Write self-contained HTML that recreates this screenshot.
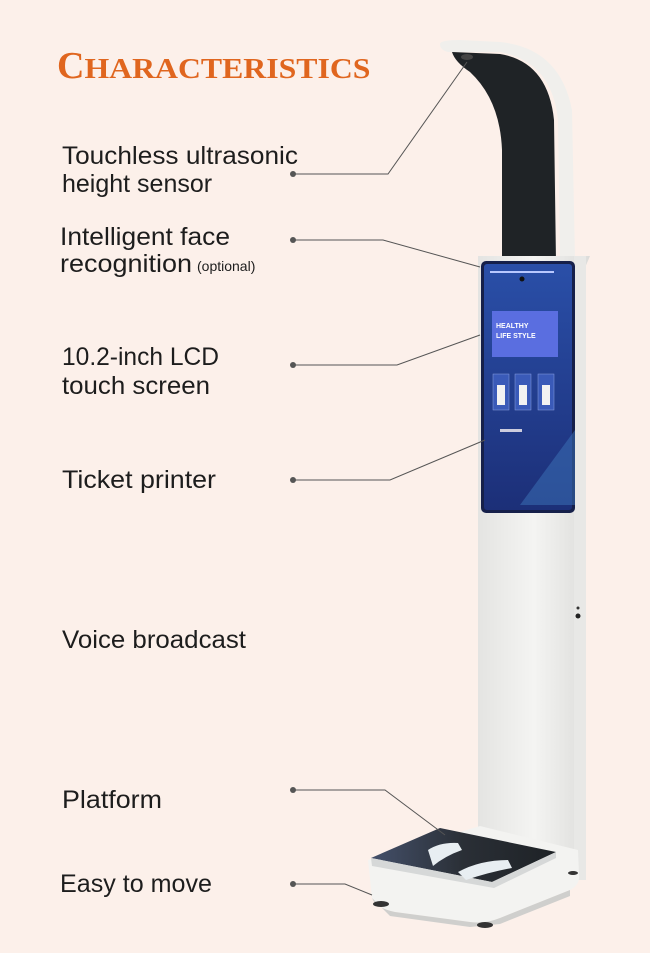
<!DOCTYPE html>
<html><head><meta charset="utf-8"><style>
html,body{margin:0;padding:0;background:#fcf0ea}
svg{display:block}
.t{font-family:"Liberation Sans",sans-serif;font-size:25px;fill:#1d1d1d}
</style></head><body>
<svg width="650" height="953" viewBox="0 0 650 953" xmlns="http://www.w3.org/2000/svg">
<defs>
<linearGradient id="col" x1="0" x2="1"><stop offset="0" stop-color="#e4e4e2"/><stop offset="0.5" stop-color="#f4f4f2"/><stop offset="1" stop-color="#dcdcda"/></linearGradient>
<linearGradient id="scr" x1="0" y1="0" x2="0" y2="1"><stop offset="0" stop-color="#2a4fa8"/><stop offset="1" stop-color="#1c2f78"/></linearGradient>
<linearGradient id="gl" x1="0" x2="1"><stop offset="0" stop-color="#44506a"/><stop offset="0.5" stop-color="#2a2f36"/><stop offset="1" stop-color="#1e2226"/></linearGradient>
</defs>
<rect width="650" height="953" fill="#fcf0ea"/>
<text x="57" y="78" font-family="'Liberation Serif',serif" font-weight="bold" fill="#e0661f"><tspan font-size="38">C</tspan><tspan font-size="28" textLength="286" lengthAdjust="spacingAndGlyphs">HARACTERISTICS</tspan></text>

<!-- head arch -->
<path d="M440 44 Q440 40 460 40 L500 42 Q560 48 572 110 L575 260 L560 260 L558 120 Q552 62 500 52 L448 52 Q440 50 440 44Z" fill="#f0efec"/>
<path d="M452 52 L500 54 Q548 62 554 120 L556 262 L502 262 L502 150 Q500 100 470 72 Q455 62 452 52Z" fill="#1f2326"/>
<ellipse cx="467" cy="57" rx="6" ry="3" fill="#444"/>
<!-- column -->
<path d="M478 256 L590 256 L584 270 L580 880 L478 880Z" fill="url(#col)"/>
<rect x="574" y="256" width="12" height="624" fill="#e8e8e6"/>
<!-- screen -->
<rect x="481" y="261" width="94" height="252" rx="5" fill="#16204a"/>
<rect x="484" y="264" width="88" height="246" rx="3" fill="url(#scr)"/>
<rect x="490" y="271" width="64" height="2" fill="#b8c8ff"/>
<circle cx="522" cy="279" r="2.5" fill="#111"/>
<rect x="492" y="311" width="66" height="46" fill="#5a6ee0"/>
<text x="496" y="328" font-family="Liberation Sans,sans-serif" font-size="7" font-weight="bold" fill="#fff">HEALTHY</text>
<text x="496" y="338" font-family="Liberation Sans,sans-serif" font-size="7" font-weight="bold" fill="#fff">LIFE STYLE</text>
<rect x="493" y="374" width="16" height="36" fill="#3a5ab8" stroke="#8aa0e0" stroke-width="0.5"/>
<rect x="515" y="374" width="16" height="36" fill="#3a5ab8" stroke="#8aa0e0" stroke-width="0.5"/>
<rect x="538" y="374" width="16" height="36" fill="#3a5ab8" stroke="#8aa0e0" stroke-width="0.5"/>
<rect x="497" y="385" width="8" height="20" fill="#f2f2f2"/>
<rect x="519" y="385" width="8" height="20" fill="#f2f2f2"/>
<rect x="542" y="385" width="8" height="20" fill="#f2f2f2"/>
<rect x="500" y="429" width="22" height="3" fill="#ccd"/>
<path d="M575 430 L575 505 L520 505Z" fill="#3b6fb5" opacity="0.55"/>
<circle cx="578" cy="608" r="1.5" fill="#333"/><circle cx="578" cy="616" r="2.5" fill="#222"/>
<!-- base -->
<path d="M368 860 L372 898 Q376 908 395 912 L470 922 Q485 924 500 918 L570 890 Q580 885 579 875 L578 850 L480 826 Z" fill="#f3f3f1"/>
<path d="M372 898 Q376 908 395 912 L470 922 Q485 924 500 918 L570 890 L570 896 L500 924 L470 927 L390 916Z" fill="#cfcfcd"/>
<path d="M371 858 L440 828 L556 852 L492 882 Z" fill="url(#gl)"/>
<path d="M371 858 L492 882 L556 852 L556 858 L494 888 L372 866Z" fill="#d6d8d8"/>
<path d="M428 850 Q440 842 458 843 L462 850 Q445 856 433 866 Z" fill="#e8eef2"/>
<path d="M458 872 Q480 860 508 860 L512 868 Q490 872 466 880 Z" fill="#e8eef2"/>
<ellipse cx="381" cy="904" rx="8" ry="3" fill="#333"/>
<ellipse cx="485" cy="925" rx="8" ry="3" fill="#333"/>
<ellipse cx="573" cy="873" rx="5" ry="2" fill="#333"/>

<!-- leader lines -->
<g stroke="#555" stroke-width="1" fill="none">
<path d="M293 174 L388 174 L467 62"/>
<path d="M293 240 L383 240 L480 267"/>
<path d="M293 365 L397 365 L480 335"/>
<path d="M293 480 L390 480 L485 440"/>
<path d="M293 790 L385 790 L445 835"/>
<path d="M293 884 L345 884 L372 895"/>
</g>
<g fill="#555">
<circle cx="293" cy="174" r="3"/><circle cx="293" cy="240" r="3"/><circle cx="293" cy="365" r="3"/>
<circle cx="293" cy="480" r="3"/><circle cx="293" cy="790" r="3"/><circle cx="293" cy="884" r="3"/>
</g>

<text class="t" x="62" y="164" textLength="236" lengthAdjust="spacingAndGlyphs">Touchless ultrasonic</text>
<text class="t" x="62" y="192">height sensor</text>
<text class="t" x="60" y="245" textLength="170" lengthAdjust="spacingAndGlyphs">Intelligent face</text>
<text class="t" x="60" y="272" textLength="132" lengthAdjust="spacingAndGlyphs">recognition</text>
<text x="197" y="271" font-family="Liberation Sans,sans-serif" font-size="14" fill="#1d1d1d">(optional)</text>
<text class="t" x="62" y="365" textLength="157" lengthAdjust="spacingAndGlyphs">10.2-inch LCD</text>
<text class="t" x="62" y="394" textLength="148" lengthAdjust="spacingAndGlyphs">touch screen</text>
<text class="t" x="62" y="488" textLength="154" lengthAdjust="spacingAndGlyphs">Ticket printer</text>
<text class="t" x="62" y="648" textLength="184" lengthAdjust="spacingAndGlyphs">Voice broadcast</text>
<text class="t" x="62" y="808" textLength="100" lengthAdjust="spacingAndGlyphs">Platform</text>
<text class="t" x="60" y="892" textLength="152" lengthAdjust="spacingAndGlyphs">Easy to move</text>
</svg>
</body></html>
